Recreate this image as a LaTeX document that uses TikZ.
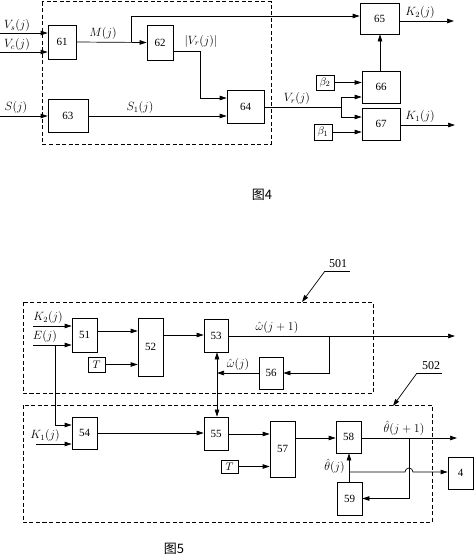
\documentclass[tikz,border=0pt]{standalone}
\usepackage{amsmath}
\usepackage{fontspec}
\setmainfont{Liberation Serif}
\newfontfamily\cjk{Noto Sans CJK SC}
\usetikzlibrary{arrows.meta}

\begin{document}
\begin{tikzpicture}[x=1pt, y=-1pt,
  box/.style={draw, line width=0.7pt, inner sep=0pt, font=\fontsize{11}{11}\selectfont},
  wire/.style={line width=0.7pt},
  arr/.style={wire, -{Triangle[length=7pt,width=4.5pt]}},
  dbl/.style={wire, {Triangle[length=7pt,width=4.5pt]}-{Triangle[length=7pt,width=4.5pt]}},
  frame/.style={dashed, line width=0.8pt, dash pattern=on 4pt off 2.5pt},
  lbl/.style={inner sep=0pt, anchor=south, font=\fontsize{11.5}{11.5}\selectfont}]
  \useasboundingbox (0,0) rectangle (474,558);

  % figure 4
  \draw[frame] (42,1.5) rectangle (271,144);
  \node[box, minimum width=28pt, minimum height=34pt] (b61) at (62,42) {61};
  \node[box, minimum width=26pt, minimum height=35pt] (b62) at (160,42.5) {62};
  \node[box, minimum width=40pt, minimum height=33pt] (b63) at (68,115.5) {63};
  \node[box, minimum width=37pt, minimum height=33pt] (b64) at (245.5,106.5) {64};
  \node[box, minimum width=39pt, minimum height=31pt] (b65) at (379.5,18.5) {65};
  \node[box, minimum width=38pt, minimum height=32pt] (b66) at (381,87) {66};
  \node[box, minimum width=38pt, minimum height=32pt] (b67) at (381,124) {67};
  \node[box, minimum width=18pt, minimum height=15pt] (beta2) at (325,82.5) {$\beta_2$};
  \node[box, minimum width=18pt, minimum height=16pt] (beta1) at (323,132) {$\beta_1$};
  \coordinate (vs) at (0,33);
  \coordinate (vc) at (0,52);
  \coordinate (sj) at (0,116);
  \coordinate (mfork) at (131,42);
  \coordinate (vrfork) at (341,107);
  \coordinate (k2out) at (454,21);
  \coordinate (k1out) at (455,125);
  \draw[arr] (vs) -- (vs -| b61.west);
  \draw[arr] (vc) -- (vc -| b61.west);
  \draw[arr] (sj) -- (b63.west |- sj);
  \draw[arr] (b61.east) -- (b62.west);
  \draw[arr] (mfork) -- (131,16) -- (b65.west |- 0,16);
  \draw[arr] (b62.east |- 0,51) -| (200,98) -- (b64.west |- 0,98);
  \draw[arr] (b63.east |- sj) -- (b64.west |- sj);
  \draw[wire] (b64.east |- vrfork) -- (vrfork);
  \draw[arr] (341,97) -- (b66.west |- 0,97);
  \draw[arr] (341,117) -- (b67.west |- 0,117);
  \draw[wire] (341,97) -- (341,117);
  \draw[arr] (beta2.east) -- (b66.west |- beta2.east);
  \draw[arr] (beta1.east) -- (b67.west |- beta1.east);
  \draw[arr] (b66.north -| 380,0) -- (b65.south -| 380,0);
  \draw[arr] (b65.east |- k2out) -- (k2out);
  \draw[arr] (b67.east |- k1out) -- (k1out);
  \node[lbl] (lvs) at (17,31.5) {$V_s(j)$};
  \node[lbl] (lvc) at (17,50.5) {$V_c(j)$};
  \node[lbl] (lm) at (103,40) {$M(j)$};
  \node[lbl, anchor=center] (labs) at (201,41) {$|V_r(j)|$};
  \node[lbl] (ls) at (16,114) {$S(j)$};
  \node[lbl] (ls1) at (140,114) {$S_1(j)$};
  \node[lbl] (lvr) at (297,105) {$V_r(j)$};
  \node[lbl] (lk2) at (420,19) {$K_2(j)$};
  \node[lbl] (lk1) at (420,123) {$K_1(j)$};
  \node[font=\cjk\fontsize{13}{13}\selectfont, inner sep=0pt] (cap4) at (262,195) {图4};

  % figure 5
  \draw[frame] (23,302) rectangle (373,393);
  \draw[frame] (23,405) rectangle (432,522);
  \node[lbl, anchor=center, font=\fontsize{12}{12}\selectfont] (n501) at (338,264) {501};
  \node[lbl, anchor=center, font=\fontsize{12}{12}\selectfont] (n502) at (431,366) {502};
  \draw[wire] (350,271) -- (325,271);
  \draw[arr] (325,271) -- (302,302);
  \draw[wire] (442,373) -- (417,373);
  \draw[arr] (417,373) -- (393,406);
  \node[box, minimum width=25pt, minimum height=34pt] (b51) at (84.5,335) {51};
  \node[box, minimum width=25pt, minimum height=58pt] (b52) at (150.5,347) {52};
  \node[box, minimum width=24pt, minimum height=33pt] (b53) at (216,335.5) {53};
  \node[box, minimum width=24pt, minimum height=32pt] (b56) at (271,373) {56};
  \node[box, minimum width=17pt, minimum height=15pt] (t1) at (96.5,364.5) {$T$};
  \node[box, minimum width=25pt, minimum height=32pt] (b54) at (84.5,433) {54};
  \node[box, minimum width=24pt, minimum height=33pt] (b55) at (216,433.5) {55};
  \node[box, minimum width=25pt, minimum height=56pt] (b57) at (282.5,449) {57};
  \node[box, minimum width=17pt, minimum height=13pt] (t2) at (229.5,466.5) {$T$};
  \node[box, minimum width=25pt, minimum height=32pt] (b58) at (348.5,437) {58};
  \node[box, minimum width=25pt, minimum height=33pt] (b59) at (349.5,498.5) {59};
  \node[box, minimum width=25pt, minimum height=32pt] (b4) at (460.5,473) {4};
  \coordinate (k2in) at (33,326);
  \coordinate (ein) at (33,345);
  \coordinate (k1in) at (36,444);
  \coordinate (wout) at (455,336);
  \coordinate (wfork) at (329,336);
  \coordinate (tout) at (457,438);
  \coordinate (tfork) at (409,438);
  \draw[arr] (k2in) -- (b51.west |- k2in);
  \draw[arr] (ein) -- (b51.west |- ein);
  \draw[arr] (55,345) -- (55,425) -- (b54.west |- 0,425);
  \draw[arr] (k1in) -- (b54.west |- k1in);
  \draw[arr] (b51.east |- 0,331) -- (b52.west |- 0,331);
  \draw[arr] (t1.east) -- (b52.west |- t1.east);
  \draw[arr] (b52.east |- 0,335) -- (b53.west |- 0,335);
  \draw[arr] (b53.east |- wout) -- (wout);
  \draw[arr] (wfork) |- (b56.east);
  \draw[arr] (b56.west) -- (217,373);
  \draw[dbl] (b53.south -| 217,0) -- (b55.north -| 217,0);
  \draw[arr] (b54.east) -- (b55.west |- b54.east);
  \draw[arr] (b55.east |- 0,434) -- (b57.west |- 0,434);
  \draw[arr] (t2.east) -- (b57.west |- t2.east);
  \draw[arr] (b57.east |- 0,438) -- (b58.west |- 0,438);
  \draw[arr] (b58.east |- tout) -- (tout);
  \draw[arr] (tfork) |- (b59.east);
  \draw[arr] (b59.north -| 349,0) -- (b58.south -| 349,0);
  \draw[arr] (349,472) -- (405,472) arc[start angle=180, end angle=0, radius=4pt] -- (b4.west |- 0,472);
  \node[lbl] (lk2b) at (48,324) {$K_2(j)$};
  \node[lbl] (le) at (45,343) {$E(j)$};
  \node[lbl] (lk1b) at (45,442) {$K_1(j)$};
  \node[lbl] (lw1) at (277,334) {$\hat{\omega}(j+1)$};
  \node[lbl] (lw0) at (238,371) {$\hat{\omega}(j)$};
  \node[lbl] (lt1) at (404,436) {$\hat{\theta}(j+1)$};
  \node[lbl, anchor=east] (lt0) at (345,466) {$\hat{\theta}(j)$};
  \node[font=\cjk\fontsize{13}{13}\selectfont, inner sep=0pt] (cap5) at (174,549) {图5};
\end{tikzpicture}
\end{document}
